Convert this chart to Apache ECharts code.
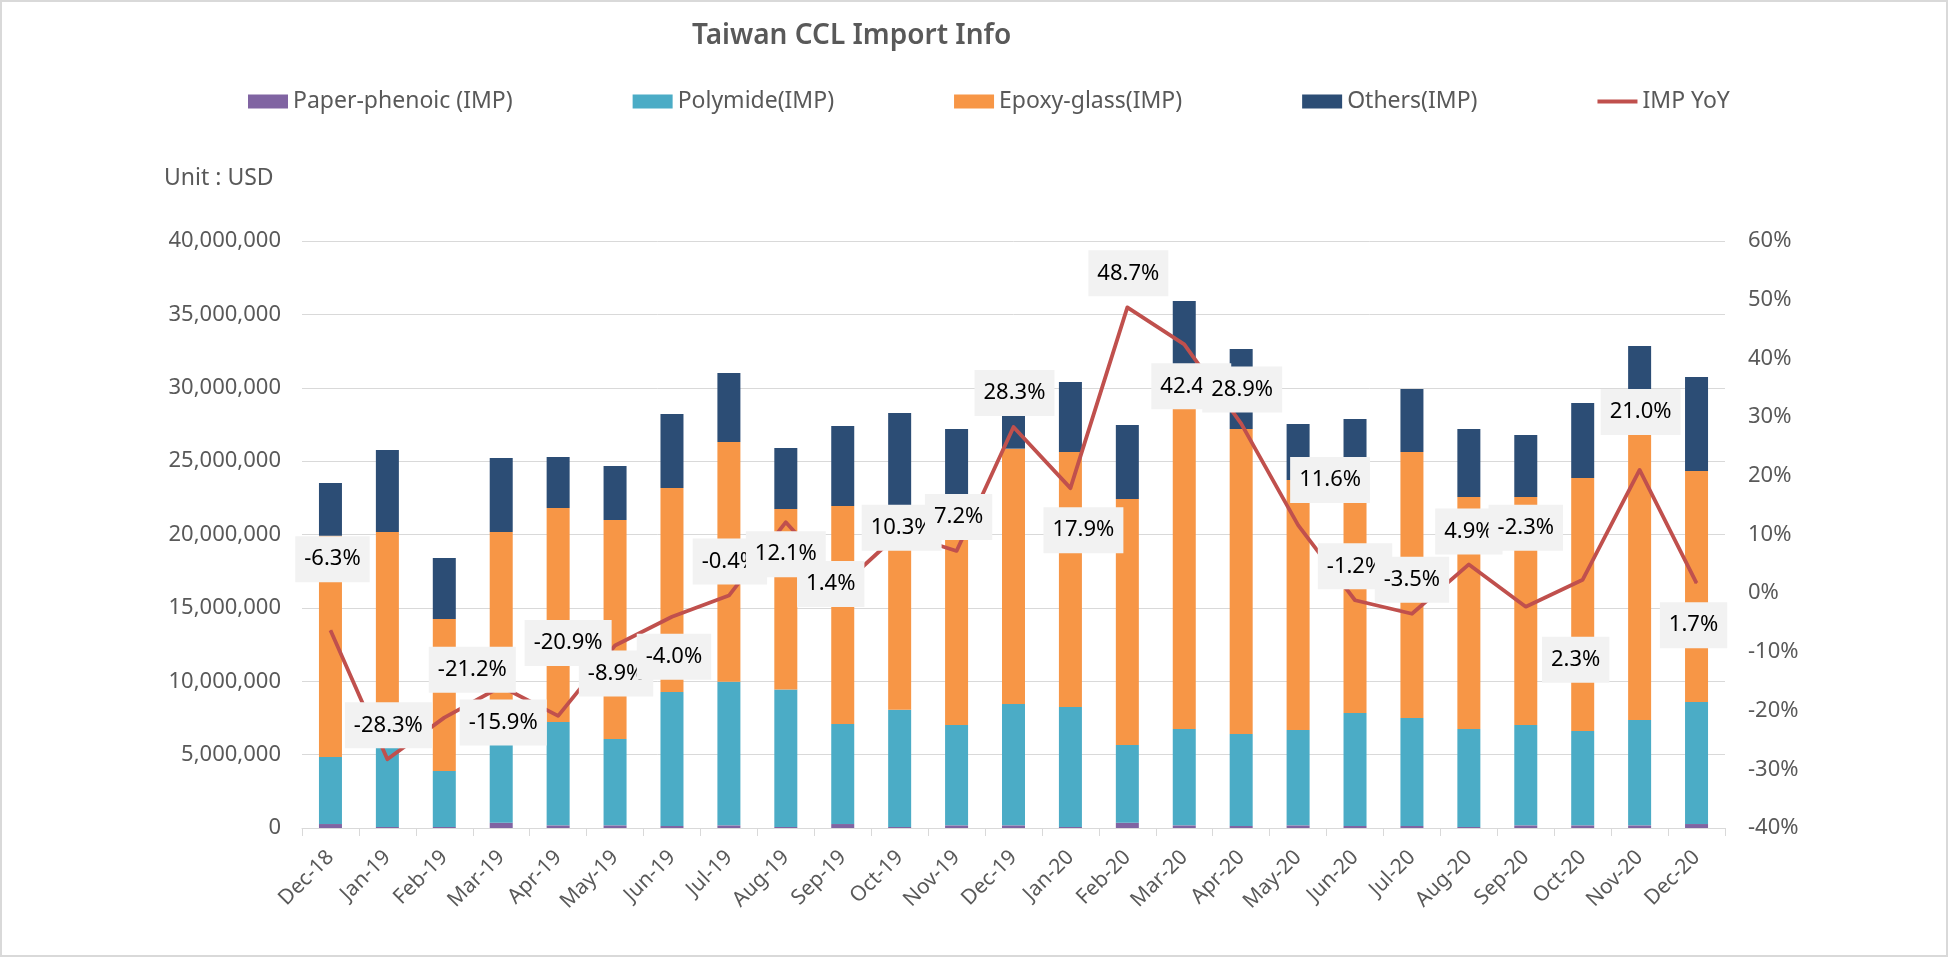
<!DOCTYPE html>
<html>
<head>
<meta charset="utf-8">
<title>Taiwan CCL Import Info</title>
<script src="https://cdn.jsdelivr.net/npm/echarts@6/dist/echarts.min.js"></script>
<style>
  html, body { margin: 0; padding: 0; background: #fff; }
  #chart { position: absolute; left: 0; top: 0; width: 1948px; height: 957px; }
  #frame { position: absolute; left: 0; top: 0; width: 1948px; height: 957px;
           box-sizing: border-box; border: 2px solid #d9d9d9; pointer-events: none; }
</style>
</head>
<body>
<div id="chart"></div>
<div id="frame"></div>
<script>
// data (USD, YoY in %)
const months = ['Dec-18', 'Jan-19', 'Feb-19', 'Mar-19', 'Apr-19', 'May-19', 'Jun-19', 'Jul-19',
  'Aug-19', 'Sep-19', 'Oct-19', 'Nov-19', 'Dec-19', 'Jan-20', 'Feb-20', 'Mar-20', 'Apr-20',
  'May-20', 'Jun-20', 'Jul-20', 'Aug-20', 'Sep-20', 'Oct-20', 'Nov-20', 'Dec-20'];

const paperPhenoic = [270000, 70000, 70000, 360000, 180000, 180000, 140000, 180000, 70000,
  270000, 70000, 180000, 180000, 70000, 360000, 180000, 140000, 180000, 140000, 140000,
  70000, 180000, 180000, 180000, 270000];

const polymide = [4570000, 5530000, 3810000, 5300000, 7040000, 5880000, 9130000, 9790000,
  9360000, 6820000, 7990000, 6840000, 8270000, 8180000, 5300000, 6570000, 6270000, 6500000,
  7700000, 7360000, 6680000, 6840000, 6430000, 7180000, 8320000];

const epoxyGlass = [15080000, 14570000, 10360000, 14510000, 14590000, 14930000, 13900000,
  16330000, 12310000, 14850000, 13140000, 15480000, 17400000, 17370000, 16760000, 24250000,
  20780000, 17030000, 14460000, 18120000, 15810000, 15540000, 17240000, 20640000, 15740000];

const others = [3590000, 5590000, 4160000, 5040000, 3470000, 3680000, 5040000, 4700000,
  4150000, 5450000, 7080000, 4690000, 2350000, 4770000, 5040000, 4910000, 5450000, 3820000,
  5570000, 4290000, 4630000, 4220000, 5110000, 4850000, 6400000];

const impYoY = [-6.3, -28.3, -21.2, -15.9, -20.9, -8.9, -4.0, -0.4, 12.1, 1.4, 10.3, 7.2,
  28.3, 17.9, 48.7, 42.4, 28.9, 11.6, -1.2, -3.5, 4.9, -2.3, 2.3, 21.0, 1.7];

// where each YoY label box sits relative to its point (dx, dy in px)
const yoyLabelOffsets = [[2, -71], [1, -34], [28, -48], [2, 36], [10, -73], [1, 28], [2, 40],
  [1, -34], [0, 32], [-12, -1], [2, -5], [2, -34], [1, -34], [13, 42], [1, -34], [7, 42],
  [1, -34], [32, -45], [0, -34], [0, -34], [0, -33], [0, -79], [-7, 80], [1, -58], [-3, 42]];

const FONT = 'Noto Sans, sans-serif';
const GREY = '#595959';

const chart = echarts.init(document.getElementById('chart'));

const barSeries = (name, values, color) => ({
  name: name,
  type: 'bar',
  stack: 'imp',
  data: values,
  barWidth: 23,
  itemStyle: { color: color },
  emphasis: { disabled: true }
});

const option = {
  animation: false,
  backgroundColor: '#fff',
  textStyle: { fontFamily: FONT },
  title: {
    text: 'Taiwan CCL Import Info',
    left: 687,
    top: 17,
    textStyle: { fontFamily: FONT, fontSize: 28, fontWeight: 600, color: GREY }
  },
  legend: {
    left: 243,
    top: 85,
    itemWidth: 40,
    itemHeight: 14,
    itemGap: 120,
    textStyle: { fontFamily: FONT, fontSize: 23, color: GREY },
    data: [
      { name: 'Paper-phenoic (IMP)', icon: 'rect' },
      { name: 'Polymide(IMP)', icon: 'rect' },
      { name: 'Epoxy-glass(IMP)', icon: 'rect' },
      { name: 'Others(IMP)', icon: 'rect' },
      { name: 'IMP YoY', icon: 'path://M0,0H40V4H0Z' }
    ]
  },
  graphic: [{
    type: 'text',
    left: 164,
    top: 167,
    style: { text: 'Unit : USD', fontFamily: FONT, fontSize: 23, fill: GREY }
  }],
  grid: { left: 302, right: 223, top: 241, bottom: 129 },
  xAxis: {
    type: 'category',
    data: months,
    axisLine: { lineStyle: { color: '#d9d9d9', width: 1 } },
    axisTick: { show: true, length: 8, lineStyle: { color: '#d9d9d9' } },
    axisLabel: { rotate: 45, margin: 26, fontFamily: FONT, fontSize: 21, color: GREY, interval: 0 }
  },
  yAxis: [
    {
      type: 'value',
      min: 0,
      max: 40000000,
      interval: 5000000,
      axisLine: { show: false },
      axisTick: { show: false },
      splitLine: { lineStyle: { color: '#d9d9d9', width: 1 } },
      axisLabel: {
        margin: 21,
        fontFamily: FONT,
        fontSize: 22,
        color: GREY,
        formatter: v => v.toLocaleString('en-US')
      }
    },
    {
      type: 'value',
      min: -40,
      max: 60,
      interval: 10,
      axisLine: { show: false },
      axisTick: { show: false },
      splitLine: { show: false },
      axisLabel: { margin: 23, fontFamily: FONT, fontSize: 22, color: GREY, formatter: '{value}%' }
    }
  ],
  series: [
    barSeries('Paper-phenoic (IMP)', paperPhenoic, '#8064a2'),
    barSeries('Polymide(IMP)', polymide, '#4bacc6'),
    barSeries('Epoxy-glass(IMP)', epoxyGlass, '#f79646'),
    barSeries('Others(IMP)', others, '#2c4d75'),
    {
      name: 'IMP YoY',
      type: 'line',
      yAxisIndex: 1,
      data: impYoY.map((v, i) => ({ value: v, label: { offset: yoyLabelOffsets[i] } })),
      symbol: 'circle',
      symbolSize: 1,
      showSymbol: true,
      lineStyle: { color: '#c0504d', width: 3.8, join: 'round' },
      itemStyle: { color: '#c0504d' },
      emphasis: { disabled: true },
      z: 5,
      label: {
        show: true,
        position: 'inside',
        formatter: p => p.value.toFixed(1) + '%',
        fontFamily: FONT,
        fontSize: 22,
        lineHeight: 22,
        color: '#000',
        backgroundColor: '#f2f2f2',
        padding: [12, 9]
      }
    }
  ]
};

chart.setOption(option);
</script>
</body>
</html>
